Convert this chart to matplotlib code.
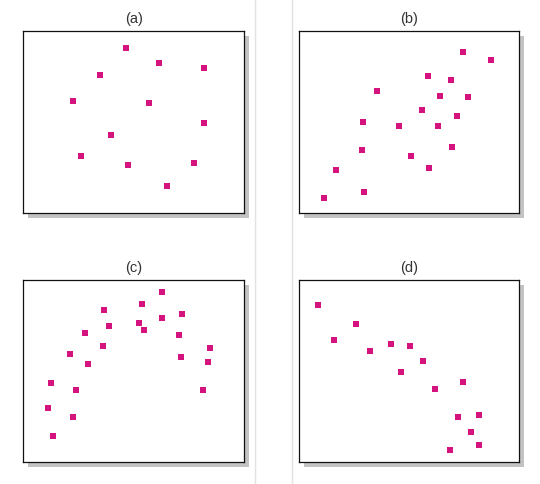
import matplotlib
matplotlib.use("Agg")
import matplotlib.pyplot as plt
from matplotlib.patches import Rectangle
from matplotlib.lines import Line2D

plt.rcParams['font.family'] = ['Liberation Sans', 'DejaVu Sans']

# Panel data (arbitrary units, 0-10 on both axes)
a_x = [4.66, 6.15, 8.19, 3.48, 2.26, 5.70, 8.19, 3.98, 2.62, 4.75, 7.72, 6.52]
a_y = [9.07, 8.26, 7.97, 7.58, 6.15, 6.04, 4.95, 4.29, 3.15, 2.66, 2.75, 1.48]

b_x = [7.45, 8.73, 5.86, 6.91, 3.55, 6.41, 7.68, 5.59, 7.18, 2.91,
       4.55, 6.32, 6.95, 2.86, 5.09, 5.91, 1.68, 2.95, 1.14]
b_y = [8.85, 8.41, 7.53, 7.31, 6.70, 6.43, 6.37, 5.68, 5.35, 5.00,
       4.78, 4.78, 3.63, 3.46, 3.13, 2.47, 2.36, 1.15, 0.82]

c_x = [6.29, 5.38, 3.67, 7.19, 5.25, 6.29, 3.89, 5.48, 2.81, 7.06, 3.62,
       8.46, 2.13, 7.15, 2.94, 8.37, 1.27, 2.40, 8.14, 1.13, 2.26, 1.36]
c_y = [9.34, 8.68, 8.35, 8.13, 7.64, 7.91, 7.47, 7.25, 7.09, 6.98, 6.37,
       6.26, 5.93, 5.77, 5.38, 5.49, 4.34, 3.96, 3.96, 2.97, 2.47, 1.43]

d_x = [0.86, 2.59, 1.59, 3.23, 4.18, 5.05, 5.64, 4.64, 7.45, 6.18,
       8.18, 7.23, 7.82, 8.18, 6.86]
d_y = [8.63, 7.58, 6.70, 6.10, 6.48, 6.37, 5.55, 4.95, 4.40, 4.01,
       2.58, 2.47, 1.65, 0.93, 0.66]

labels = ["(a)", "(b)", "(c)", "(d)"]
panels = [(a_x, a_y), (b_x, b_y), (c_x, c_y), (d_x, d_y)]

W, H = 540, 485
fig = plt.figure(figsize=(W / 100, H / 100), dpi=100)

# separator lines
for xp in (255, 292):
    fig.add_artist(Line2D([xp / W, xp / W], [0, 1], transform=fig.transFigure,
                          color="#e2e2e2", lw=1))

# axes boxes in pixels: left, top, width, height
boxes = [(23.3, 32.3, 221, 182), (299.3, 32.3, 220, 182),
         (23.3, 281.3, 221, 182), (299.3, 281.3, 220, 182)]

for (px, py, pw, ph), lab, (xs, ys) in zip(boxes, labels, panels):
    # drop shadow
    fig.add_artist(Rectangle(((px + 5) / W, 1 - (py + ph + 5) / H), pw / W, ph / H,
                             transform=fig.transFigure, facecolor="#c3c3c3",
                             edgecolor="none", zorder=0))
    ax = fig.add_axes([px / W, 1 - (py + ph) / H, pw / W, ph / H], zorder=1)
    ax.plot(xs, ys, 's', color="#d4137f", markersize=4.3, markeredgewidth=0)
    ax.set_xlim(0, 10)
    ax.set_ylim(0, 10)
    ax.set_xticks([])
    ax.set_yticks([])
    for sp in ax.spines.values():
        sp.set_linewidth(0.9)
        sp.set_color("#111111")
    ax.set_title(lab, fontsize=10.5, color="#333333", pad=7)

fig.savefig("out.png", dpi=100)
